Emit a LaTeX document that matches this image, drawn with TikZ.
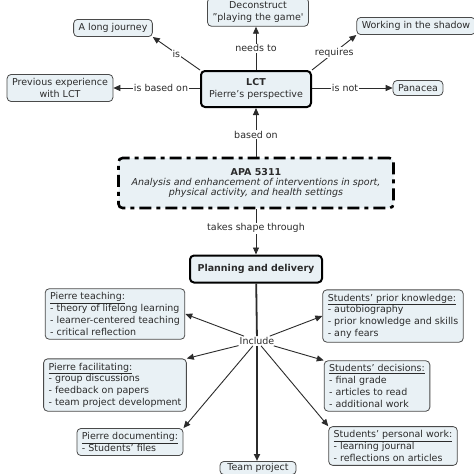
\documentclass[tikz,border=0pt]{standalone}
\usepackage{fontspec}
\setmainfont{DejaVu Sans}
\usetikzlibrary{arrows.meta,positioning}
\definecolor{boxfill}{HTML}{E9F1F5}
\definecolor{boxline}{HTML}{4A4A4A}
\definecolor{inkgray}{HTML}{2B2B2B}

\begin{document}
\begin{tikzpicture}[x=1pt, y=-1pt,
  font=\fontsize{9.5}{11.7}\selectfont, text=inkgray,
  box/.style={draw=boxline, fill=boxfill, rounded corners=4pt, line width=0.8pt,
              inner xsep=5pt, inner ysep=4pt, align=center},
  main/.style={box, draw=black, line width=2pt},
  course/.style={box, draw=black, line width=2.6pt,
                 dash pattern=on 12pt off 5pt on 4pt off 5pt},
  listbox/.style={box, align=left},
  ar/.style={-{Triangle[length=7pt,width=6pt]}, draw=inkgray, line width=0.9pt},
  lbl/.style={fill=white, inner sep=1pt}]

\clip (0,0) rectangle (474,474);
\fill[white] (0,0) rectangle (474,474);

% top row around the LCT node
\node[box]  (journey) at (113,28) {A long journey};
\node[box]  (decon)   at (258,12) {Deconstruct\\"playing the game\textquotesingle};
\node[box]  (shadow)  at (416,26) {Working in the shadow};
\node[box]  (prev)    at (60,88)  {Previous experience\\with LCT};
\node[main, minimum width=110pt, minimum height=36pt] (lct) at (256,89)
     {\textbf{LCT}\\Pierre's perspective};
\node[box]  (panacea) at (418,88) {Panacea};

\draw[ar] (lct.north west) -- node[lbl] {is} (journey.south east);
\draw[ar] (lct.north) -- node[lbl] {needs to} (lct.north |- decon.south);
\draw[ar] (lct.north east) -- node[lbl] {requires} (shadow.south west);
\draw[ar] (lct.west |- prev) -- node[lbl, pos=0.45] {is based on} (prev);
\draw[ar] (lct.east |- panacea) -- node[lbl, pos=0.41] {is not} (panacea);

% the course
\node[course, minimum width=275pt, minimum height=50pt] (apa) at (256,183)
     {\textbf{APA 5311}\\[-1.5pt]
      \textit{Analysis and enhancement of interventions in sport,}\\[-1.5pt]
      \textit{physical activity, and health settings}};
\draw[ar] (apa) -- node[lbl, pos=0.45] {based on} (lct);

\node[main, minimum width=132pt, minimum height=27pt] (plan) at (256,269)
     {\textbf{Planning and delivery}};
\draw[ar] (apa) -- node[lbl, pos=0.42] {takes shape through} (plan);

% what the delivery includes
\node[inner sep=1pt] (inc) at (257,341) {Include};
\node[box, inner ysep=2pt, minimum width=76pt, anchor=north] (team) at (258,461)
     {Team project};
\draw[draw=inkgray, line width=1.8pt] (plan) -- (inc);
\draw[ar, line width=1.8pt] (inc) -- (inc |- team.north);

\node[listbox] (teach) at (115,314)
     {\underline{Pierre teaching:}\\- theory of lifelong learning\\
      - learner-centered teaching\\- critical reflection};
\node[listbox] (facil) at (115,385)
     {\underline{Pierre facilitating:}\\- group discussions\\
      - feedback on papers\\- team project development};
\node[listbox] (docu) at (130,442)
     {\underline{Pierre documenting:}\\- Students' files};
\node[listbox] (prior) at (393,316)
     {\underline{Students' prior knowledge:}\\- autobiography\\
      - prior knowledge and skills\\- any fears};
\node[listbox] (decis) at (377,386)
     {\underline{Students' decisions:}\\- final grade\\
      - articles to read\\- additional work};
\node[listbox] (perso) at (393,446)
     {\underline{Students' personal work:}\\- learning journal\\
      - reflections on articles};

\draw[ar] (inc) -- (teach.east);
\draw[ar] (inc) -- (facil.north east);
\draw[ar] (inc) -- (docu.north east);
\draw[ar] (inc) -- (prior.west);
\draw[ar] (inc) -- (decis.north west);
\draw[ar] (inc) -- (perso.north west);
\end{tikzpicture}
\end{document}
